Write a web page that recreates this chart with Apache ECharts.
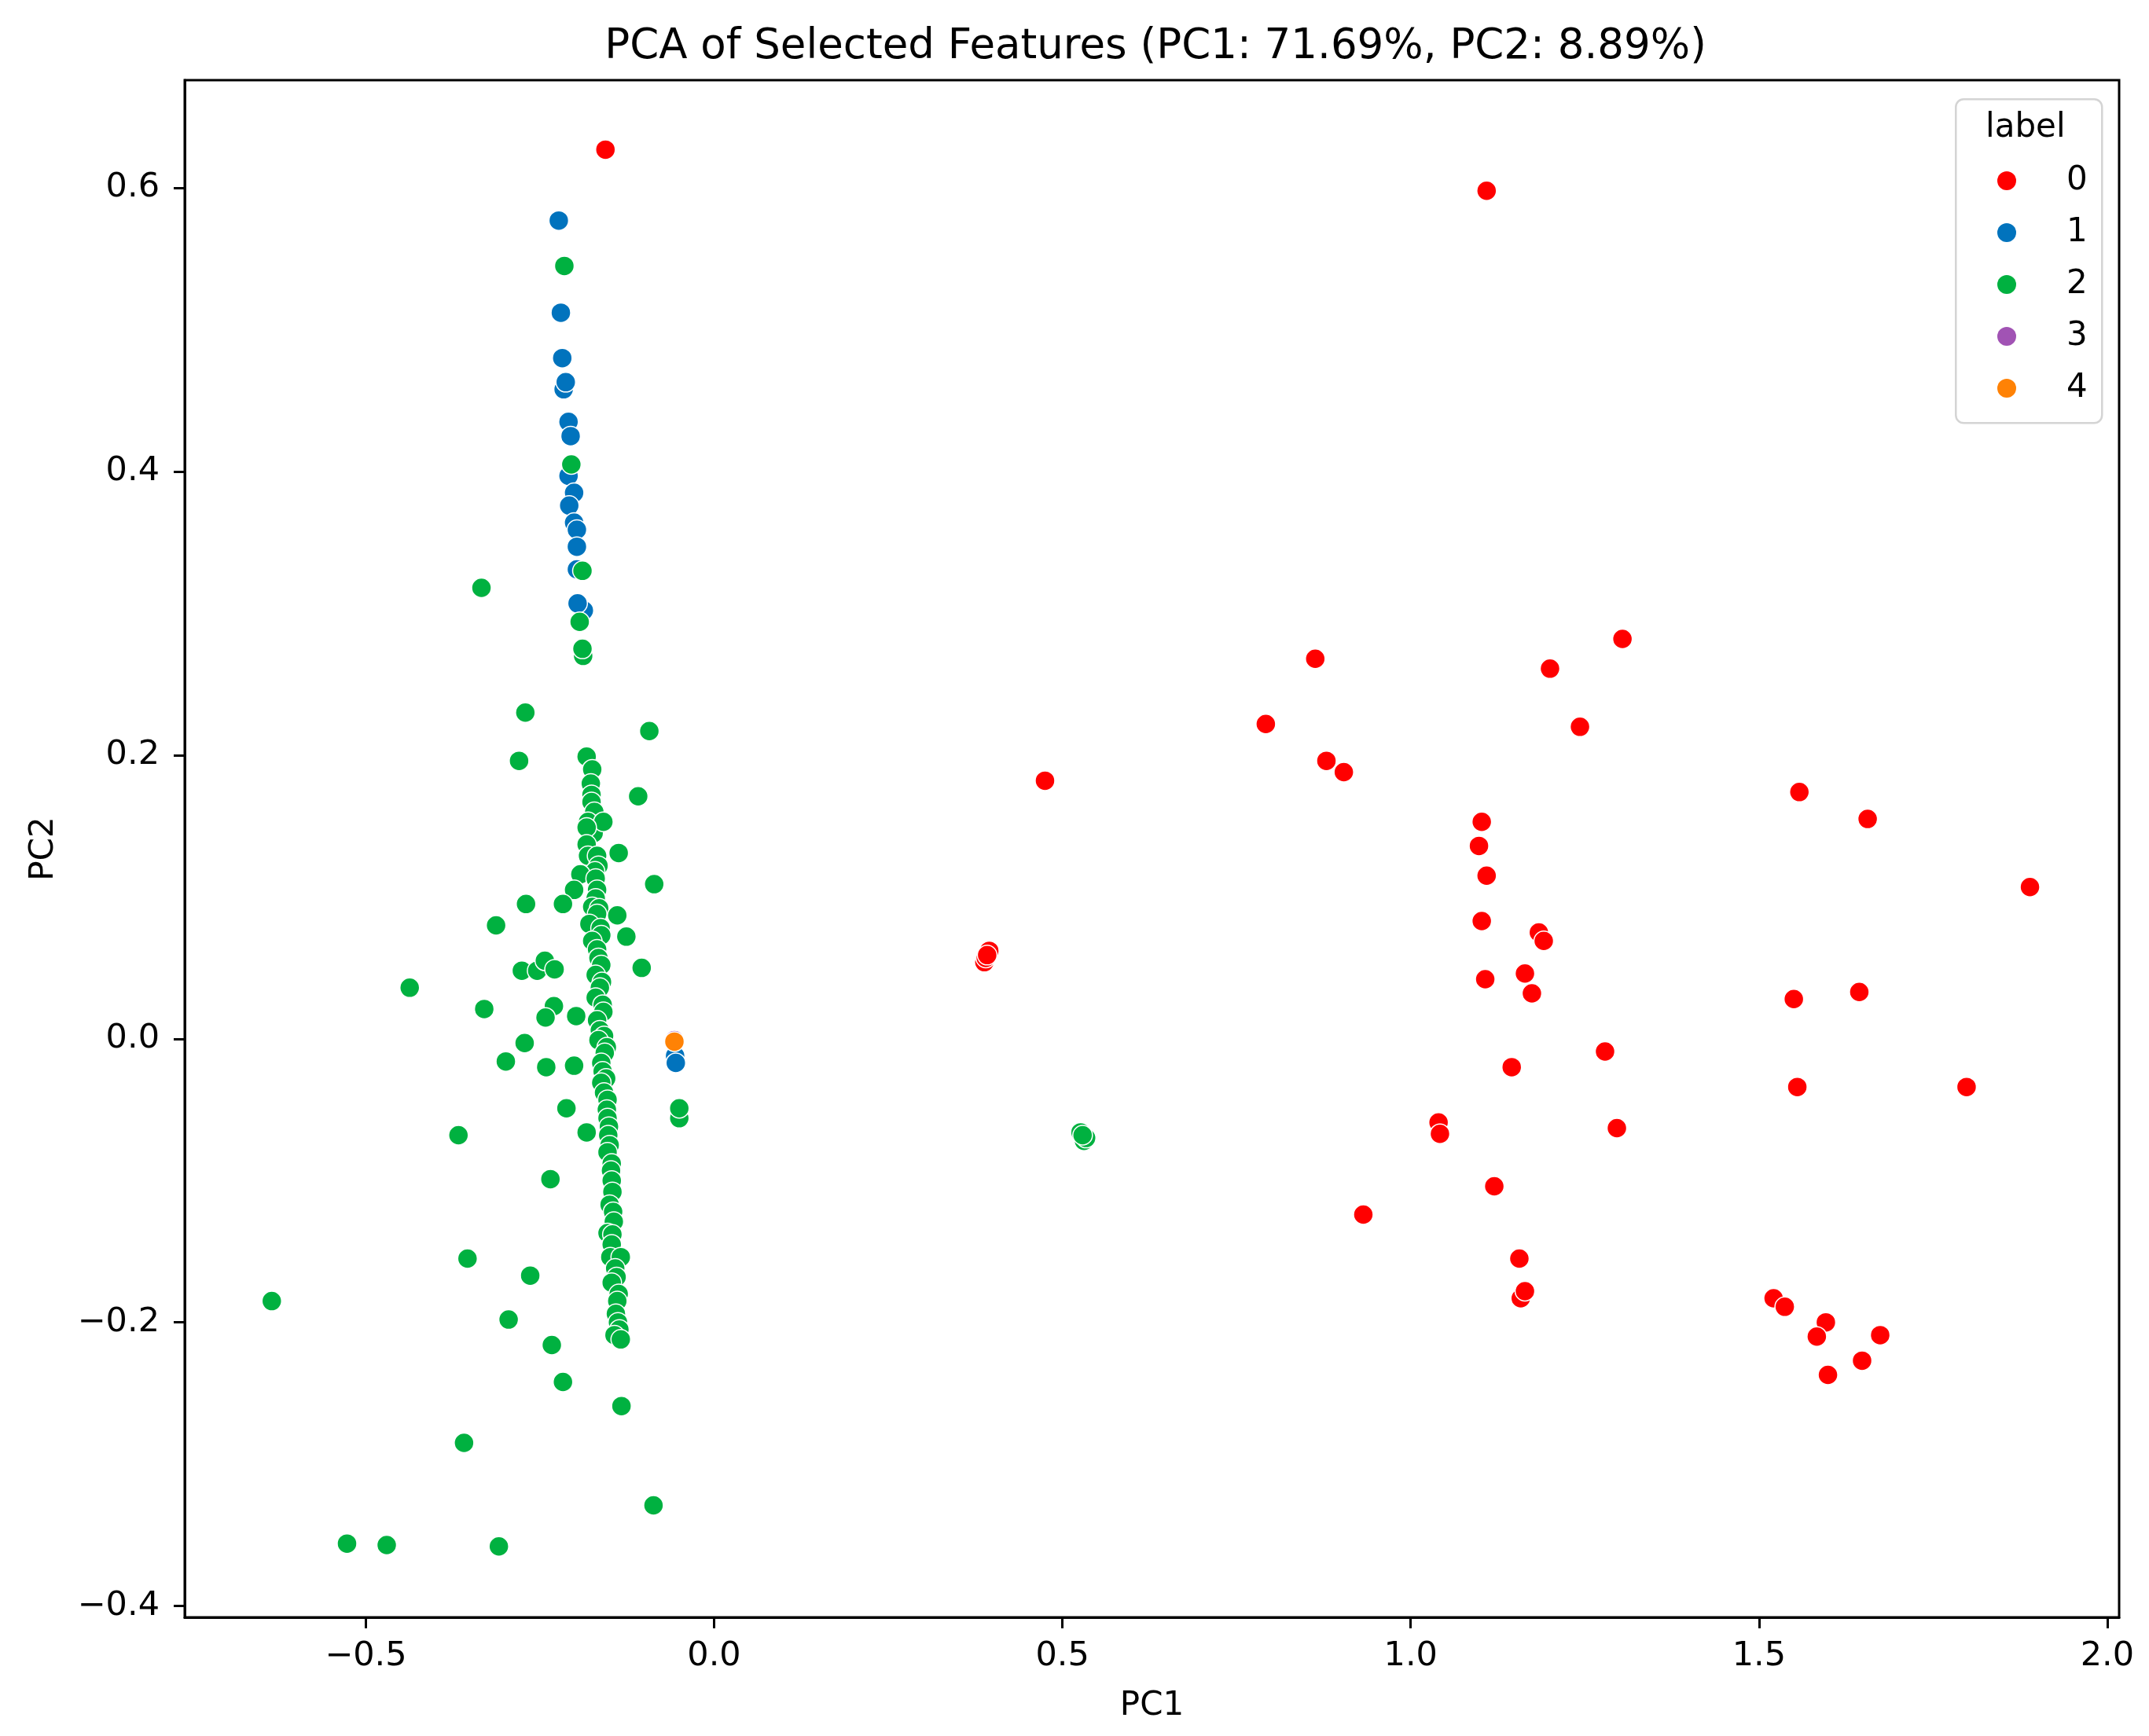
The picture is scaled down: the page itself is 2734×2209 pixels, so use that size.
<!DOCTYPE html>
<html>
<head>
<meta charset="utf-8">
<script src="https://cdn.jsdelivr.net/npm/echarts@6/dist/echarts.min.js"></script>
<style>html,body{margin:0;padding:0;background:#fff;}#chart{width:2734px;height:2209px;}</style>
</head>
<body>
<div id="chart"></div>
<script>
const chartTitle = 'PCA of Selected Features (PC1: 71.69%, PC2: 8.89%)';
const legendTitle = 'label';
const labelNames = ['0', '1', '2', '3', '4'];
const labelColors = ['#ff0000', '#0173bd', '#00b140', '#a153b4', '#ff8205'];
const xTicks = [-0.5, 0.0, 0.5, 1.0, 1.5, 2.0];
const yTicks = [-0.4, -0.2, 0.0, 0.2, 0.4, 0.6];

const label0 = [
  [-0.156,0.627],[1.109,0.598],
  [0.863,0.268],[0.792,0.222],[0.879,0.196],[0.904,0.188],
  [1.200,0.261],[1.304,0.282],[1.243,0.220],
  [0.475,0.182],
  [1.558,0.174],[1.656,0.155],
  [1.102,0.153],[1.098,0.136],[1.109,0.115],
  [1.889,0.107],
  [1.102,0.083],[1.184,0.075],[1.191,0.069],[1.164,0.046],[1.107,0.042],[1.174,0.032],
  [1.550,0.028],[1.644,0.033],
  [1.279,-0.009],[1.145,-0.020],[1.555,-0.034],[1.798,-0.034],
  [1.040,-0.059],[1.042,-0.067],[1.296,-0.063],
  [1.120,-0.104],[0.932,-0.124],[1.156,-0.155],[1.158,-0.183],[1.164,-0.178],
  [1.521,-0.183],[1.537,-0.189],[1.596,-0.200],[1.583,-0.210],[1.674,-0.209],[1.648,-0.227],[1.599,-0.237],
  [0.388,0.054],[0.395,0.062],[0.390,0.057],[0.392,0.059]
];
const label1 = [
  [-0.223,0.577],[-0.220,0.512],[-0.218,0.480],[-0.216,0.458],[-0.213,0.463],
  [-0.209,0.435],[-0.206,0.425],[-0.209,0.397],[-0.201,0.385],[-0.208,0.376],
  [-0.201,0.364],[-0.197,0.359],[-0.197,0.347],[-0.197,0.331],[-0.187,0.302],[-0.196,0.307],
  [-0.056,-0.012],[-0.055,-0.017]
];
const label2 = [
  [-0.215,0.545],[-0.205,0.405],[-0.189,0.330],[-0.334,0.318],[-0.193,0.294],[-0.188,0.270],[-0.189,0.275],
  [-0.271,0.230],[-0.093,0.217],[-0.280,0.196],
  [-0.183,0.199],[-0.175,0.190],[-0.177,0.180],[-0.176,0.172],[-0.176,0.167],[-0.109,0.171],
  [-0.172,0.160],[-0.173,0.145],
  [-0.181,0.153],[-0.159,0.153],[-0.183,0.149],[-0.183,0.137],[-0.181,0.129],[-0.168,0.129],[-0.137,0.131],
  [-0.166,0.122],[-0.171,0.118],[-0.192,0.116],[-0.170,0.113],[-0.201,0.105],[-0.168,0.105],[-0.086,0.109],
  [-0.270,0.095],[-0.217,0.095],[-0.170,0.099],[-0.175,0.093],[-0.165,0.092],[-0.168,0.088],[-0.139,0.087],[-0.179,0.081],
  [-0.313,0.080],[-0.163,0.078],[-0.162,0.073],[-0.126,0.072],[-0.175,0.069],[-0.168,0.063],[-0.166,0.057],
  [-0.276,0.048],[-0.254,0.048],[-0.243,0.055],[-0.229,0.049],[-0.104,0.050],[-0.162,0.052],[-0.170,0.045],
  [-0.161,0.040],[-0.164,0.036],[-0.437,0.036],[-0.170,0.029],[-0.160,0.024],
  [-0.330,0.021],[-0.230,0.023],[-0.242,0.015],[-0.198,0.016],[-0.159,0.019],[-0.168,0.013],[-0.164,0.006],
  [-0.158,0.002],[-0.166,-0.001],[-0.154,-0.006],[-0.157,-0.010],
  [-0.272,-0.003],[-0.299,-0.016],[-0.241,-0.020],[-0.201,-0.019],[-0.162,-0.017],[-0.160,-0.023],
  [-0.155,-0.028],[-0.162,-0.031],[-0.158,-0.038],[-0.153,-0.043],[-0.154,-0.050],[-0.212,-0.049],
  [-0.050,-0.056],[-0.050,-0.049],
  [-0.153,-0.056],[-0.151,-0.062],[-0.183,-0.066],[-0.152,-0.068],[-0.367,-0.068],[-0.150,-0.075],[-0.153,-0.080],
  [-0.147,-0.088],[-0.148,-0.093],
  [-0.235,-0.099],[-0.147,-0.100],[-0.146,-0.108],[-0.150,-0.117],[-0.145,-0.122],[-0.144,-0.129],[-0.153,-0.137],
  [-0.146,-0.138],[-0.147,-0.145],[-0.149,-0.154],[-0.134,-0.154],[-0.354,-0.155],[-0.142,-0.162],[-0.264,-0.167],
  [-0.140,-0.168],[-0.147,-0.172],[-0.137,-0.180],[-0.139,-0.185],[-0.635,-0.185],[-0.141,-0.194],[-0.295,-0.198],
  [-0.138,-0.200],[-0.136,-0.205],[-0.143,-0.209],[-0.134,-0.212],[-0.233,-0.216],[-0.217,-0.242],[-0.133,-0.259],
  [-0.359,-0.285],[-0.087,-0.329],[-0.527,-0.356],[-0.470,-0.357],[-0.309,-0.358],
  [0.526,-0.066],[0.531,-0.072],[0.534,-0.070],[0.529,-0.068]
];
const label3 = [[-0.057,-0.001]];
const label4 = [[-0.057,-0.002]];
const allLabels = [label0, label1, label2, label3, label4];

const FONT = 'DejaVu Sans';
const fmt = v => (v < 0 ? '\u2212' : '') + Math.abs(v).toFixed(1);

const chart = echarts.init(document.getElementById('chart'), null, {renderer: 'canvas'});

const series = allLabels.map((d, i) => ({
  name: labelNames[i],
  type: 'scatter',
  data: d,
  symbol: 'circle',
  symbolSize: 25,
  itemStyle: {color: labelColors[i], borderColor: '#ffffff', borderWidth: 1.5, opacity: 1},
  emphasis: {disabled: true},
  z: 2
}));

const axisCommon = {
  type: 'value',
  axisLine: {show: true, onZero: false, lineStyle: {color: '#000', width: 3}},
  axisTick: {show: true, inside: false, length: 14, lineStyle: {color: '#000', width: 3}},
  splitLine: {show: false},
  nameTextStyle: {fontFamily: FONT, fontSize: 42, color: '#000'},
  nameLocation: 'middle'
};

chart.setOption({
  animation: false,
  backgroundColor: '#fff',
  title: {
    text: chartTitle,
    left: 1465,
    top: 29,
    textAlign: 'center',
    textStyle: {fontFamily: FONT, fontSize: 53, fontWeight: 'normal', color: '#000'}
  },
  grid: {left: 235, right: 38, top: 102, bottom: 151, show: true, borderColor: '#000', borderWidth: 3, containLabel: false},
  xAxis: Object.assign({}, axisCommon, {
    min: -0.76, max: 2.017,
    name: 'PC1', nameGap: 92,
    axisTick: Object.assign({}, axisCommon.axisTick, {customValues: xTicks}),
    axisLabel: {customValues: xTicks, formatter: fmt, fontFamily: FONT, fontSize: 43, color: '#000', margin: 28}
  }),
  yAxis: Object.assign({}, axisCommon, {
    min: -0.408, max: 0.676,
    name: 'PC2', nameGap: 158,
    axisTick: Object.assign({}, axisCommon.axisTick, {customValues: yTicks}),
    axisLabel: {customValues: yTicks, formatter: fmt, fontFamily: FONT, fontSize: 43, color: '#000', margin: 32}
  }),
  legend: {
    show: true,
    orient: 'vertical',
    left: 2536,
    top: 204,
    z: 10,
    itemWidth: 24,
    itemHeight: 24,
    itemGap: 24,
    icon: 'circle',
    selectedMode: false,
    textStyle: {fontFamily: FONT, fontSize: 42, color: '#000', lineHeight: 40, padding: [0, 0, 0, 59]},
    data: labelNames.map((n, i) => ({name: n, itemStyle: {color: labelColors[i], borderWidth: 0}}))
  },
  graphic: [
    {type: 'rect', left: 2487, top: 125, z: 0, zlevel: 0, shape: {width: 186, height: 412, r: 10},
     style: {fill: 'rgba(255,255,255,0.8)', stroke: '#d4d4d4', lineWidth: 2.5}},
    {type: 'text', left: 2526, top: 142, z: 1,
     style: {text: legendTitle, fontFamily: FONT, fontSize: 42, fill: '#000'}}
  ],
  series: series
});
</script>
</body>
</html>
